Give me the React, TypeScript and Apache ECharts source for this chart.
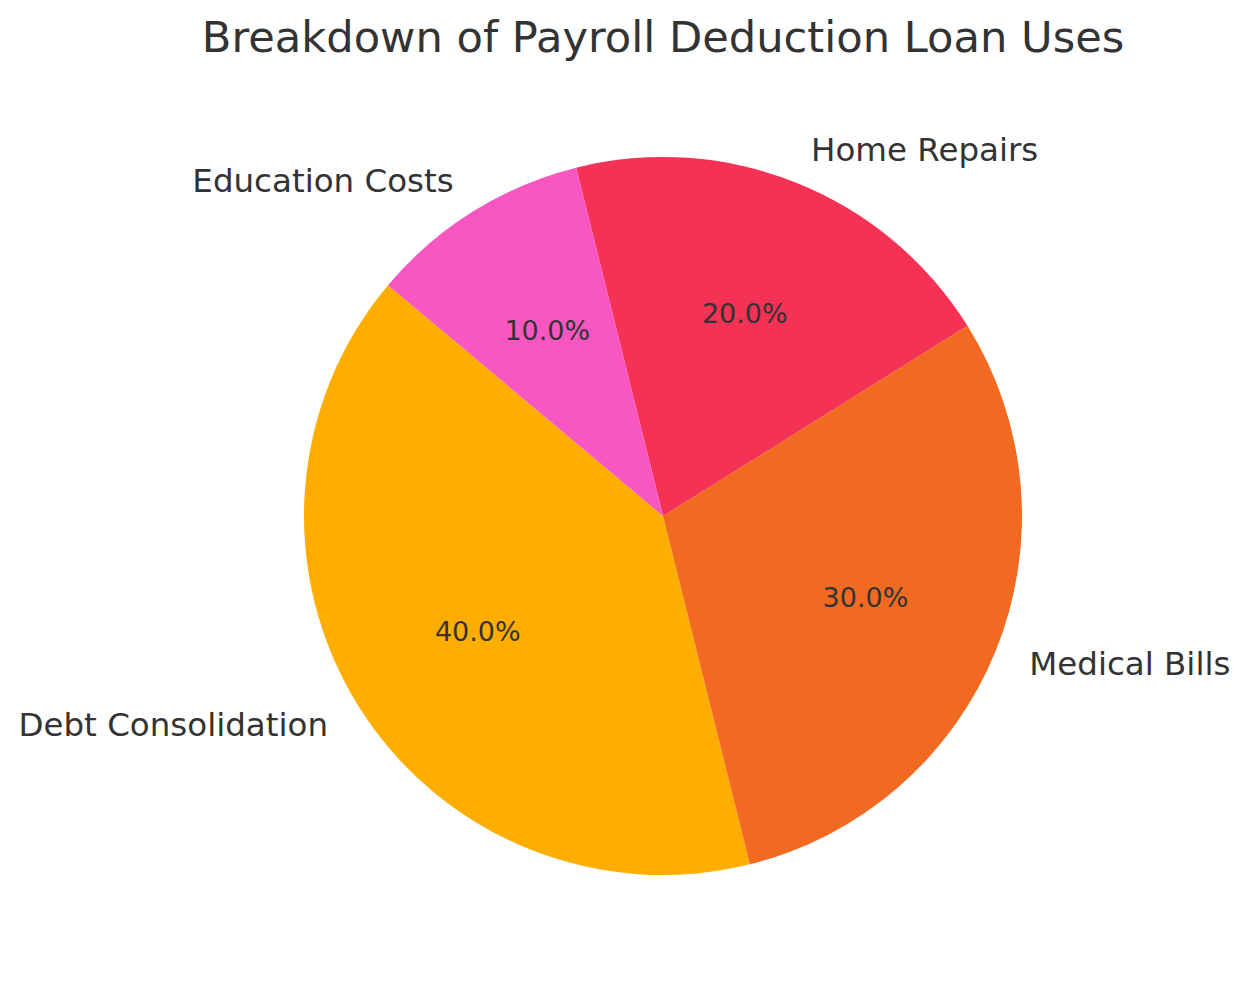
import React, { useEffect, useRef } from 'react';
import * as echarts from 'echarts';

const categories = ['Debt Consolidation', 'Medical Bills', 'Home Repairs', 'Education Costs'];
const shares = [40, 30, 20, 10];
const sliceColors = ['#FFAE00', '#F26A21', '#F43256', '#F857C1'];

const CENTER: [number, number] = [663, 516];
const RADIUS = 359;

const App: React.FC = () => {
  const chartRef = useRef<HTMLDivElement>(null);

  useEffect(() => {
    if (!chartRef.current) return;
    document.body.style.margin = '0';

    const chart = echarts.init(chartRef.current, undefined, { renderer: 'svg' });

    const data = categories.map((name, i) => ({
      name,
      value: shares[i],
      itemStyle: { color: sliceColors[i] },
    }));

    const option = {
      animation: false,
      backgroundColor: '#ffffff',
      title: {
        text: 'Breakdown of Payroll Deduction Loan Uses',
        left: 658,
        textAlign: 'center',
        top: 10,
        textStyle: {
          fontFamily: 'DejaVu Sans',
          fontSize: 43.2,
          fontWeight: 'normal',
          color: '#333333',
        },
      },
      series: [
        {
          // slices + outer category labels
          type: 'pie',
          center: CENTER,
          radius: RADIUS,
          startAngle: 140,
          clockwise: false,
          avoidLabelOverlap: false,
          silent: true,
          data,
          label: {
            show: true,
            position: 'outside',
            formatter: '{b}',
            fontFamily: 'DejaVu Sans',
            fontSize: 32.5,
            color: '#333333',
            distanceToLabelLine: 0,
          },
          labelLine: { show: false, length: 36, length2: 0 },
          emphasis: { disabled: true },
        },
        {
          // transparent ring used to place percentages at 0.6 R
          type: 'pie',
          center: CENTER,
          radius: RADIUS * 1.2,
          startAngle: 140,
          clockwise: false,
          avoidLabelOverlap: false,
          silent: true,
          z: 5,
          data: categories.map((name, i) => ({ name, value: shares[i] })),
          itemStyle: { color: 'rgba(0,0,0,0)' },
          label: {
            show: true,
            position: 'inside',
            formatter: (p: any) => `${p.percent.toFixed(1)}%`,
            fontFamily: 'DejaVu Sans',
            fontSize: 27,
            color: '#333333',
          },
          labelLine: { show: false },
          emphasis: { disabled: true },
        },
      ],
    };

    chart.setOption(option);

    return () => {
      chart.dispose();
    };
  }, []);

  return <div ref={chartRef} style={{ width: '1248px', height: '984px' }} />;
};

export default App;
